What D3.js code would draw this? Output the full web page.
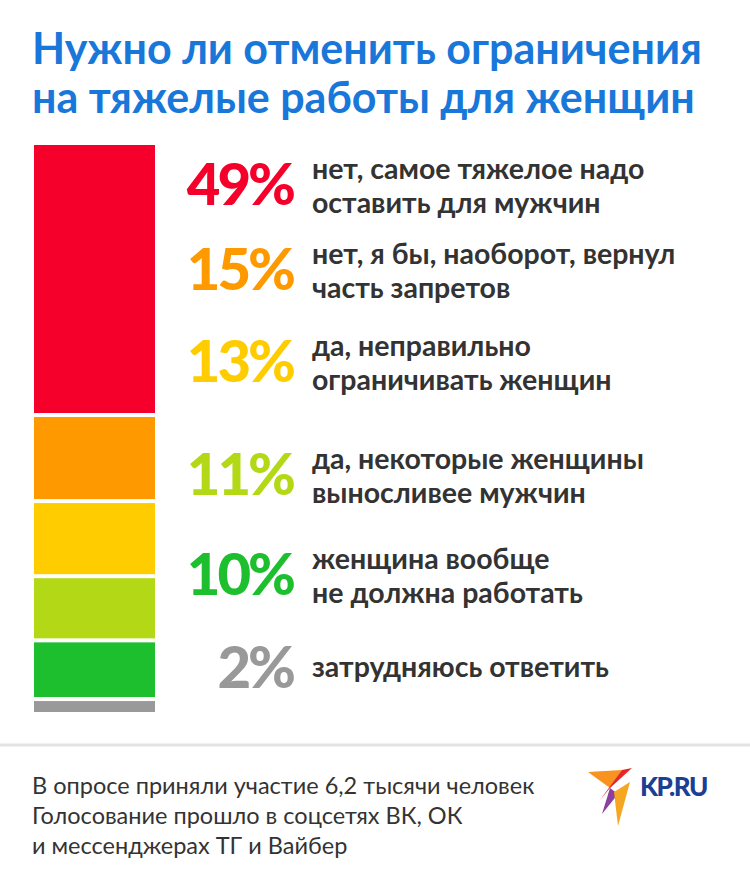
<!DOCTYPE html>
<html><head><meta charset="utf-8">
<script src="https://cdn.jsdelivr.net/npm/d3@7"></script>
<style>body{margin:0;background:#fff}svg{display:block}</style>
</head><body>
<script>
'use strict';

var categories = [
    ['нет, самое тяжелое надо', 'оставить для мужчин'],
    ['нет, я бы, наоборот, вернул', 'часть запретов'],
    ['да, неправильно', 'ограничивать женщин'],
    ['да, некоторые женщины', 'выносливее мужчин'],
    ['женщина вообще', 'не должна работать'],
    ['затрудняюсь ответить']
];
var values = [49, 15, 13, 11, 10, 2];
var colors = ['#f5002a', '#ff9900', '#ffcc00', '#b3d916', '#1dbf2e', '#999999'];
var labelY = [185, 270, 362, 475, 575, 668];
var footer = [
    'В опросе приняли участие 6,2 тысячи человек',
    'Голосование прошло в соцсетях ВК, ОК',
    'и мессенджерах ТГ и Вайбер'
];

var svg = d3.select('body').append('svg').attr('width', 750).attr('height', 890);

svg.selectAll('text.title')
    .data(['Нужно ли отменить ограничения', 'на тяжелые работы для женщин'])
    .enter().append('text')
    .attr('x', 32).attr('y', function(d, i) { return 64 + i * 49; })
    .attr('font-family', 'Lato').attr('font-weight', 'bold').attr('font-size', 43)
    .attr('fill', '#1877d9').text(function(d) { return d; });

var gap = 4,
    barTop = 145,
    barBottom = 712,
    stack = [],
    acc = 0;
values.forEach(function(v) { stack.push([acc, acc + v]); acc += v; });

var y = d3.scaleLinear().domain([0, acc]).range([barTop, barBottom - gap * (values.length - 1)]);

svg.selectAll('rect.seg')
    .data(stack).enter().append('rect')
    .attr('x', 34).attr('width', 121)
    .attr('y', function(d, i) { return y(d[0]) + i * gap; })
    .attr('height', function(d) { return y(d[1]) - y(d[0]); })
    .attr('fill', function(d, i) { return colors[i]; });

var rows = svg.selectAll('g.row')
    .data(values).enter().append('g')
    .attr('transform', function(d, i) { return 'translate(0,' + labelY[i] + ')'; });

rows.append('text')
    .attr('x', 293).attr('y', 20).attr('text-anchor', 'end')
    .attr('font-family', 'Lato').attr('font-weight', 900).attr('font-size', 58)
    .attr('letter-spacing', -3)
    .attr('fill', function(d, i) { return colors[i]; })
    .text(function(d) { return d + '%'; });

rows.each(function(d, i) {
    var lines = categories[i],
        g = d3.select(this);
    g.selectAll('text.lab').data(lines).enter().append('text')
        .attr('x', 312)
        .attr('y', function(t, j) { return (lines.length === 1 ? 9 : -6) + j * 34; })
        .attr('font-family', 'Lato').attr('font-weight', 'bold').attr('font-size', 28.5)
        .attr('fill', '#333').text(function(t) { return t; });
});

svg.append('line').attr('x1', 0).attr('x2', 750).attr('y1', 745).attr('y2', 745)
    .attr('stroke', '#e3e3e3').attr('stroke-width', 3);

svg.selectAll('text.foot').data(footer).enter().append('text')
    .attr('x', 32).attr('y', function(d, i) { return 794 + i * 30; })
    .attr('font-family', 'Lato').attr('font-size', 23.5).attr('fill', '#333')
    .text(function(d) { return d; });

// logo
var logo = svg.append('g').attr('transform', 'translate(588,768)');
logo.append('path').attr('d', 'M0,4 L34,2 L22,20 Z').attr('fill', '#f7931e');
logo.append('path').attr('d', 'M34,2 L44,0 L22,20 L12,32 Z').attr('fill', '#e8262a');
logo.append('path').attr('d', 'M22,20 L14,46 L30,26 Z').attr('fill', '#8b3fa0');
logo.append('path').attr('d', 'M26,24 L42,14 L30,58 Z').attr('fill', '#f5a623');
logo.append('text').attr('x', 52).attr('y', 28)
    .attr('font-family', 'Lato').attr('font-weight', 900).attr('font-size', 26)
    .attr('fill', '#1b3f94').attr('letter-spacing', -1.5).text('KP.RU');
</script>
</body></html>
